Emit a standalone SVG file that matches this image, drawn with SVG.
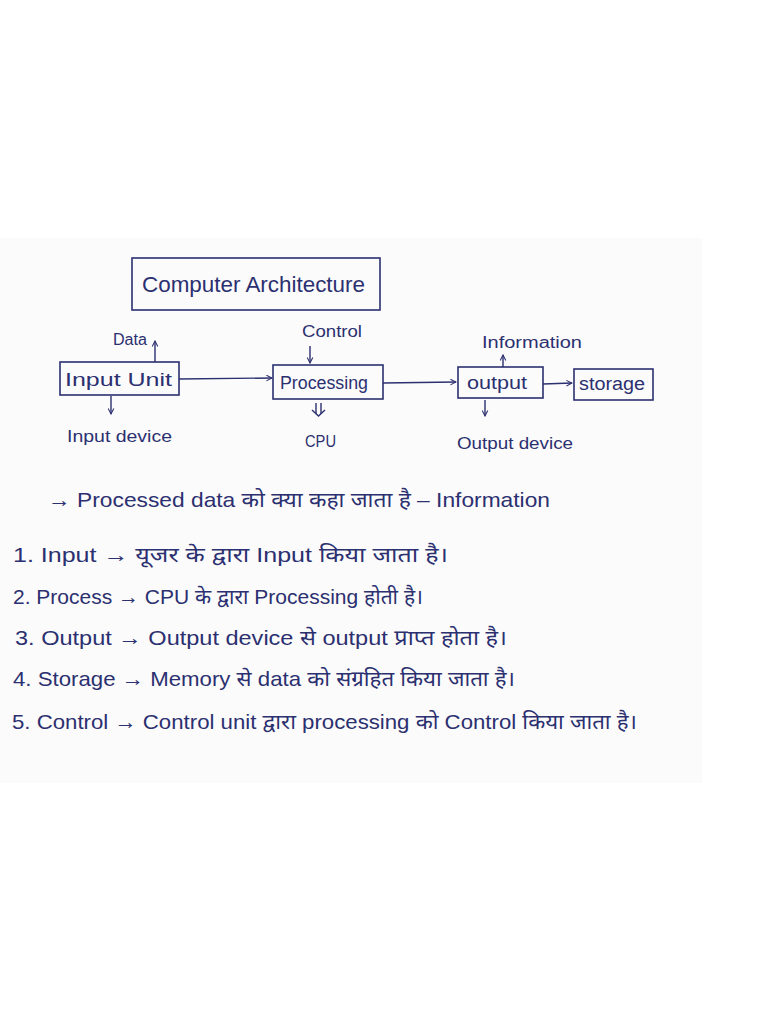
<svg xmlns="http://www.w3.org/2000/svg" width="768" height="1024" viewBox="0 0 768 1024">
<style>
  .ink{fill:#2b3070;font-family:"Liberation Sans","Noto Sans","Noto Sans Devanagari",sans-serif}
  .box{fill:none;stroke:#2b3070;stroke-width:1.6}
  .ln{fill:none;stroke:#2b3070;stroke-width:1.4}
  .lbl{font-size:16px}
  .node{font-size:18px}
  .body{font-size:21px}
</style>
<defs>
  <marker id="ah" viewBox="0 0 10 10" refX="9" refY="5" markerWidth="7" markerHeight="7" orient="auto" markerUnits="userSpaceOnUse">
    <path d="M1,1 L9,5 L1,9" fill="none" stroke="#2b3070" stroke-width="1.5"/>
  </marker>
</defs>
<rect width="768" height="1024" fill="#ffffff"/>
<rect x="0" y="238" width="702" height="545" fill="#fcfbfb"/>

<g id="title">
  <rect class="box" x="132" y="258" width="248" height="52"/>
  <text class="ink" x="142" y="292" font-size="22" textLength="223" lengthAdjust="spacingAndGlyphs">Computer Architecture</text>
</g>

<g id="input-unit">
  <rect class="box" x="60" y="362" width="119" height="33"/>
  <text class="ink node" x="65" y="386" textLength="107" lengthAdjust="spacingAndGlyphs">Input Unit</text>
</g>
<g id="processing">
  <rect class="box" x="273" y="365" width="110" height="34"/>
  <text class="ink node" x="280" y="389" textLength="88" lengthAdjust="spacingAndGlyphs">Processing</text>
</g>
<g id="output">
  <rect class="box" x="458" y="367" width="85" height="31"/>
  <text class="ink node" x="467" y="389" textLength="60" lengthAdjust="spacingAndGlyphs">output</text>
</g>
<g id="storage">
  <rect class="box" x="574" y="369" width="79" height="31"/>
  <text class="ink node" x="579" y="390" textLength="66" lengthAdjust="spacingAndGlyphs">storage</text>
</g>

<g id="labels">
  <text class="ink lbl" x="113" y="345" textLength="34" lengthAdjust="spacingAndGlyphs">Data</text>
  <text class="ink lbl" x="302" y="337" textLength="60" lengthAdjust="spacingAndGlyphs">Control</text>
  <text class="ink lbl" x="482" y="348" textLength="100" lengthAdjust="spacingAndGlyphs">Information</text>
  <text class="ink lbl" x="67" y="442" textLength="105" lengthAdjust="spacingAndGlyphs">Input device</text>
  <text class="ink lbl" x="305" y="447" textLength="31" lengthAdjust="spacingAndGlyphs">CPU</text>
  <text class="ink lbl" x="457" y="449" textLength="116" lengthAdjust="spacingAndGlyphs">Output device</text>
</g>

<g id="connectors">
  <line class="ln" x1="179" y1="379" x2="272" y2="378" marker-end="url(#ah)"/>
  <line class="ln" x1="383" y1="383" x2="456" y2="382" marker-end="url(#ah)"/>
  <line class="ln" x1="543" y1="384" x2="572" y2="383" marker-end="url(#ah)"/>
  <line class="ln" x1="155" y1="362" x2="155" y2="341" marker-end="url(#ah)"/>
  <line class="ln" x1="310" y1="346" x2="310" y2="363" marker-end="url(#ah)"/>
  <line class="ln" x1="503" y1="367" x2="503" y2="355" marker-end="url(#ah)"/>
  <line class="ln" x1="111" y1="396" x2="111" y2="414" marker-end="url(#ah)"/>
  <line class="ln" x1="485" y1="400" x2="485" y2="416" marker-end="url(#ah)"/>
  <line class="ln" x1="316" y1="403" x2="316" y2="414"/>
  <line class="ln" x1="321" y1="403" x2="321" y2="414"/>
  <path class="ln" d="M312,410 L318.5,416 L325,410"/>
</g>

<g id="notes">
  <text class="ink body" x="48" y="507" textLength="502" lengthAdjust="spacingAndGlyphs">→ Processed data को क्या कहा जाता है – Information</text>
  <text class="ink body" x="13" y="562" textLength="435" lengthAdjust="spacingAndGlyphs">1. Input → यूजर के द्वारा Input किया जाता है।</text>
  <text class="ink body" x="13" y="604" textLength="410" lengthAdjust="spacingAndGlyphs">2. Process → CPU के द्वारा Processing होती है।</text>
  <text class="ink body" x="15" y="645" textLength="492" lengthAdjust="spacingAndGlyphs">3. Output → Output device से output प्राप्त होता है।</text>
  <text class="ink body" x="13" y="686" textLength="502" lengthAdjust="spacingAndGlyphs">4. Storage → Memory से data को संग्रहित किया जाता है।</text>
  <text class="ink body" x="12" y="729" textLength="625" lengthAdjust="spacingAndGlyphs">5. Control → Control unit द्वारा processing को Control किया जाता है।</text>
</g>
</svg>
